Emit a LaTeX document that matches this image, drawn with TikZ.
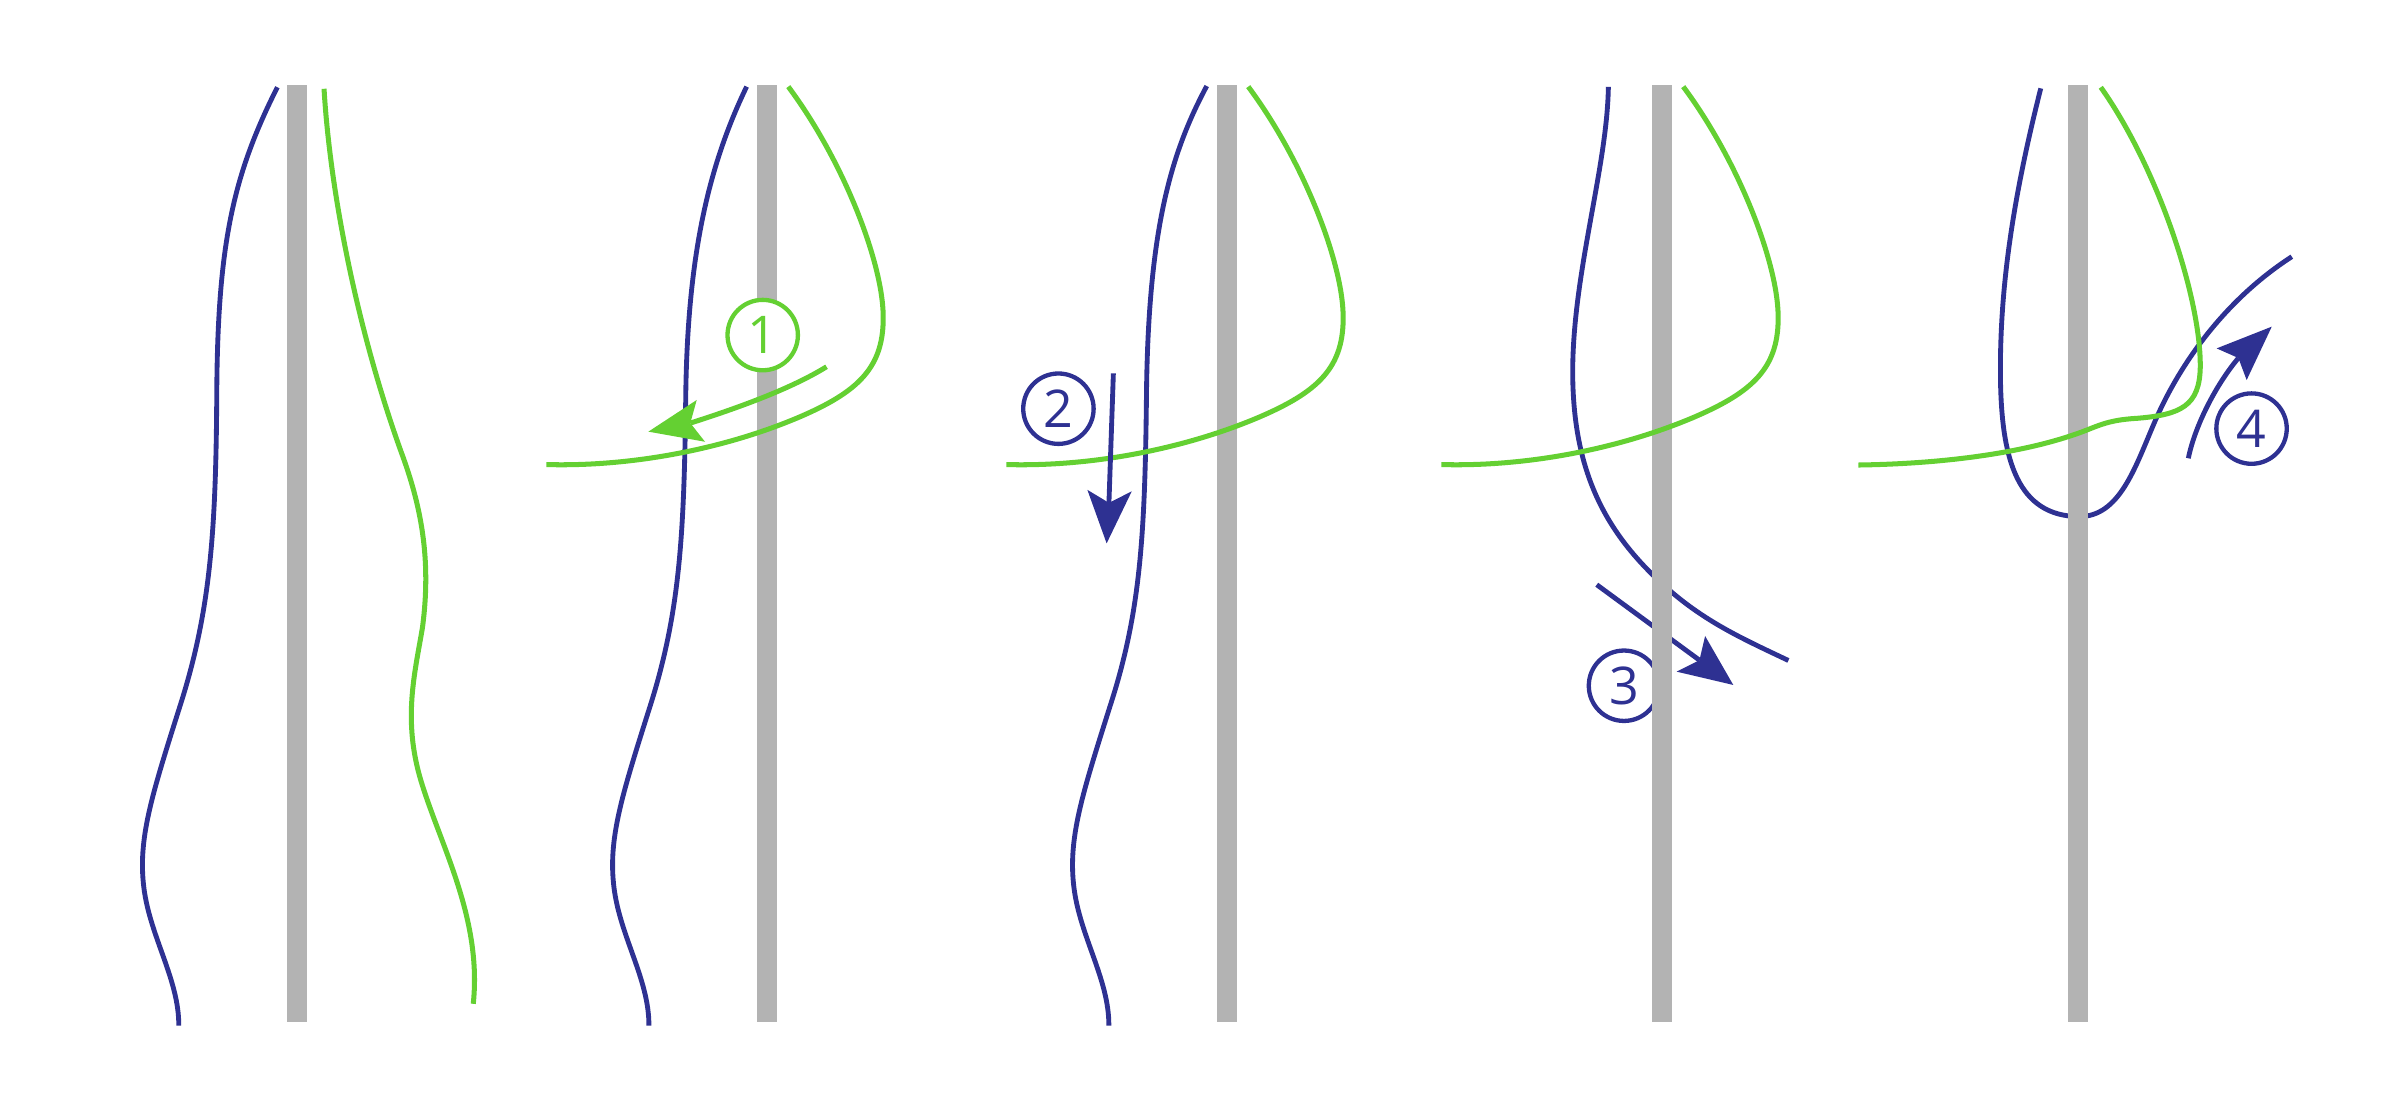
\documentclass[tikz,border=0pt]{standalone}
\usepackage{fontspec}
\setmainfont{Open Sans}
\definecolor{kblue}{RGB}{46,49,146}
\definecolor{kgreen}{RGB}{100,208,50}
\definecolor{krod}{RGB}{179,179,179}
\newcommand\rodat[1]{\fill[krod] ({#1-6.5},55.5) rectangle ({#1+6.5},667.5);}
\newcommand\greenhook[1]{%
  \begin{scope}[shift={(#1,0)}]
    \draw[gr] (-144,303.5) .. controls (-90,305) and (-30,294) .. (20,273)
      .. controls (60,256) and (77,240) .. (76,205)
      .. controls (75,170) and (50,105) .. (14,56.6);
  \end{scope}}
\begin{document}
\begin{tikzpicture}[x=0.015cm,y=-0.015cm,
  bl/.style={draw=kblue,line width=1.35pt},
  gr/.style={draw=kgreen,line width=1.4pt},
  num/.style={circle,draw,fill=white,line width=1.2pt,minimum size=0.69cm,inner sep=0pt,font=\fontsize{14.5}{16}\selectfont},
  bhead/.style={fill=kblue},
  ghead/.style={fill=kgreen}]
\useasboundingbox (0,0) rectangle (1568,716.7);

% ---------- blue strands (behind the rods) ----------
\draw[bl] (181.2,57) .. controls (152,115) and (142,160) .. (141.6,260)
  .. controls (141,350) and (137,400) .. (118,460)
  .. controls (99,520) and (90,548) .. (94,580)
  .. controls (98,612) and (117,640) .. (116.8,670);
\draw[bl] (487.8,56.6) .. controls (462,110) and (449,170) .. (448,260)
  .. controls (447,350) and (444,400) .. (425.15,460)
  .. controls (406.15,520) and (397.15,548) .. (401.15,580)
  .. controls (405.15,612) and (424.15,640) .. (423.95,670);
\draw[bl] (788.4,56.2) .. controls (765,100) and (750,150) .. (749,260)
  .. controls (748,350) and (745,400) .. (725.65,460)
  .. controls (706.65,520) and (697.65,548) .. (701.65,580)
  .. controls (705.65,612) and (724.65,640) .. (724.45,670);
\draw[bl] (1050.8,56.7) .. controls (1050,110) and (1027,180) .. (1027.5,245)
  .. controls (1028,310) and (1050,350) .. (1090,385)
  .. controls (1115,406.9) and (1140,418) .. (1168.4,431.5);
\draw[bl] (1333.3,57.7) .. controls (1315,130) and (1306,190) .. (1307,250)
  .. controls (1308,300) and (1318,337) .. (1358,337.5)
  .. controls (1385,337.8) and (1395,305) .. (1408,275)
  .. controls (1425,235.8) and (1455,195) .. (1497.3,167.7);

% arrow 3 shaft and label (behind rod 4)
\coordinate (a3s) at (1043.2,382);
\coordinate (a3n) at (1110.3,431.3);
\coordinate (a3t) at (1132.4,447.5);
\coordinate (a3b1) at (1114,415.5);
\coordinate (a3b2) at (1095.4,438.8);
\draw[bl] (a3s) -- (a3n);
\node[num,draw=kblue,text=kblue] (n3) at (1061,448) {3};

% ---------- rods ----------
\rodat{193.85}
\rodat{501}
\rodat{801.5}
\rodat{1085.7}
\rodat{1357.9}

% ---------- green strands ----------
\draw[gr] (211.7,58) .. controls (216,130) and (235,220) .. (262,295)
  .. controls (275,330) and (282,365) .. (276,410)
  .. controls (271,440) and (263,470) .. (275,510)
  .. controls (288,553) and (315,600) .. (309.2,655.8);
\greenhook{501}
\greenhook{801.5}
\greenhook{1085.7}
\draw[gr] (1214.1,303.8) .. controls (1270,303) and (1320,296) .. (1355,284)
  .. controls (1370,279) and (1375,274.5) .. (1396,273.3)
  .. controls (1425,271) and (1437,265) .. (1437.5,240)
  .. controls (1438,195) and (1410,110) .. (1372.5,57);

% ---------- arrow 1 (green) ----------
\coordinate (a1s) at (540,239.6);
\coordinate (a1n) at (451,276.4);
\coordinate (a1t) at (423.6,282);
\coordinate (a1b1) at (455.2,261.3);
\coordinate (a1b2) at (460.6,288.6);
\draw[gr] (a1s) .. controls (520,252) and (490,264) .. (a1n);
\fill[ghead] (a1t) -- (a1b1) -- (a1n) -- (a1b2) -- cycle;
\node[num,draw=kgreen,text=kgreen] (n1) at (498.3,218.9) {1};

% ---------- arrow 2 ----------
\coordinate (a2s) at (727.4,243.9);
\coordinate (a2n) at (724.5,328.5);
\coordinate (a2t) at (723,355);
\coordinate (a2b1) at (710.4,320);
\coordinate (a2b2) at (739.4,321);
\draw[bl] (a2s) -- (a2n);
\fill[bhead] (a2t) -- (a2b1) -- (a2n) -- (a2b2) -- cycle;
\node[num,draw=kblue,text=kblue] (n2) at (691.5,267) {2};

% ---------- arrow 3 head ----------
\fill[bhead] (a3t) -- (a3b1) -- (a3n) -- (a3b2) -- cycle;

% ---------- arrow 4 ----------
\coordinate (a4s) at (1429.7,299.4);
\coordinate (a4n) at (1462.4,233.9);
\coordinate (a4t) at (1484.2,213.4);
\coordinate (a4b1) at (1448.2,227.6);
\coordinate (a4b2) at (1467.8,248.3);
\draw[bl] (a4s) .. controls (1434,278) and (1448,251) .. (a4n);
\fill[bhead] (a4t) -- (a4b1) -- (a4n) -- (a4b2) -- cycle;
\node[num,draw=kblue,text=kblue] (n4) at (1471,280) {4};
\end{tikzpicture}
\end{document}
